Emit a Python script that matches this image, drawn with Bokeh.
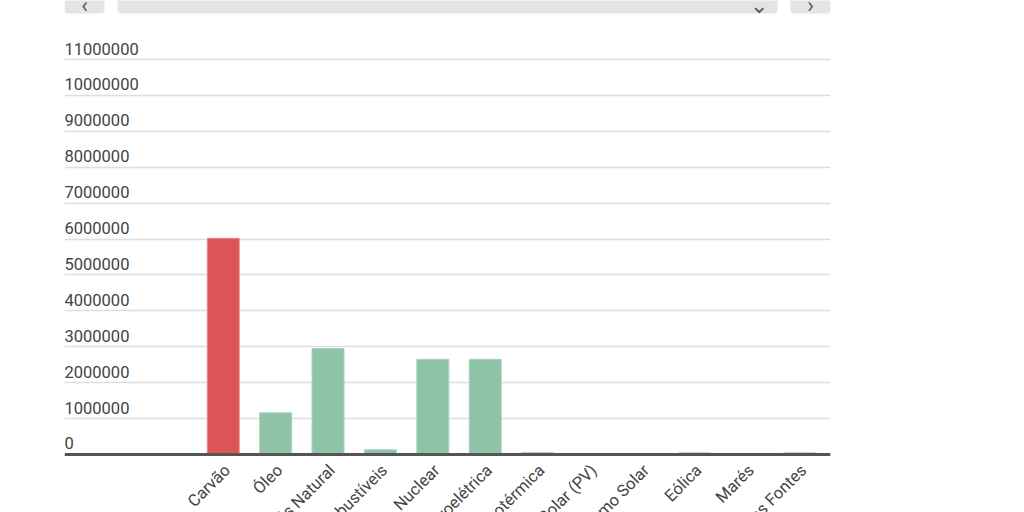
import math
from bokeh.plotting import figure
from bokeh.models import (Range1d, FixedTicker, Grid, ColumnDataSource,
                          BoxAnnotation, Span, Label)
from bokeh.core.properties import value
from bokeh.embed import file_html
from bokeh.resources import INLINE

# ---- data ----
categories = ["Carvão", "Óleo", "Gás Natural", "Biocombustíveis", "Nuclear",
              "Hidroelétrica", "Geotérmica", "Solar (PV)", "Termo Solar",
              "Eólica", "Marés", "Outras Fontes"]
values = [6020000, 1160000, 2950000, 130000, 2650000, 2650000,
          52000, 1000, 500, 45000, 600, 45000]
highlight = "Carvão"
y_ticks = [0, 1000000, 2000000, 3000000, 4000000, 5000000, 6000000,
           7000000, 8000000, 9000000, 10000000, 11000000]
y_tick_labels = [str(t) for t in y_ticks]

RED = "#dd5457"
GREEN = "#8ec3a8"
FONT = "Roboto"

positions = list(range(len(categories)))
colors = [RED if c == highlight else GREEN for c in categories]
lines = ["#e98a8c" if c == highlight else "#a9d3bb" for c in categories]

src = ColumnDataSource(dict(x=positions, top=values, color=colors, line=lines))

p = figure(width=1024, height=512, output_backend="svg", toolbar_location=None,
           x_range=Range1d(-3.03, 11.59), y_range=Range1d(-1616000, 12646000),
           x_axis_location=None, y_axis_location=None,
           min_border_left=64, min_border_right=194,
           min_border_top=0, min_border_bottom=0, outline_line_color=None,
           background_fill_color="white", border_fill_color="white")

for g in p.grid:
    g.visible = False

# grid lines
grid = Grid(dimension=1, ticker=FixedTicker(ticks=y_ticks),
            grid_line_color="#dedede", grid_line_width=1.3)
p.add_layout(grid)

p.vbar(x="x", top="top", width=0.61, bottom=0, source=src,
       fill_color="color", line_color="line", line_width=1)

# baseline (x axis line)
p.add_layout(Span(location=0, dimension="width", line_color="#555555", line_width=3))

# y labels above grid lines
lab_src = ColumnDataSource(dict(x=[p.x_range.start] * len(y_ticks), y=y_ticks, t=y_tick_labels))
p.text(x="x", y="y", text="t", source=lab_src, text_align="left",
       text_baseline="middle", y_offset=-11,
       text_font=value(FONT), text_font_size="16.5px", text_color="#444444")

# x category labels, rotated
xl_src = ColumnDataSource(dict(x=positions, y=[0] * len(positions), t=categories))
p.text(x="x", y="y", text="t", source=xl_src, angle=math.pi / 4,
       text_align="right", text_baseline="middle", x_offset=4, y_offset=13,
       text_font=value(FONT), text_font_size="16.5px", text_color="#444444")

# top navigation controls (decoration), frame-relative screen units
for l, r in [(0, 40), (53, 713), (726, 766)]:
    p.add_layout(BoxAnnotation(left=l, right=r, top=530, bottom=499,
                               left_units="screen", right_units="screen",
                               top_units="screen", bottom_units="screen",
                               fill_color="#e4e4e4", fill_alpha=1,
                               line_color=None, border_radius=4,
                               editable=False))
for xx, ch in [(20, "‹"), (694, "⌄"), (746, "›")]:
    p.add_layout(Label(x=xx, y=507, x_units="screen", y_units="screen", text=ch,
                       text_align="center", text_baseline="middle",
                       text_font=FONT, text_font_size="22px", text_color="#555555"))

open("out.html", "w").write(file_html(p, INLINE))
